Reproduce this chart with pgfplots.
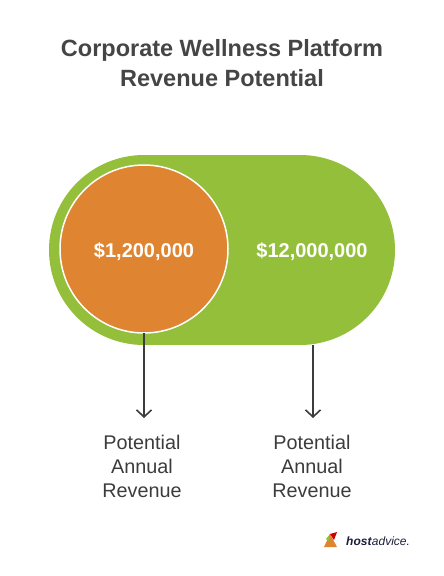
\documentclass[border=0pt]{standalone}
\usepackage{pgfplots}
\pgfplotsset{compat=1.18}
\usepackage{fontspec}
\setmainfont{Liberation Sans}
\usetikzlibrary{arrows.meta}
\definecolor{pillgreen}{HTML}{93BF3B}
\definecolor{circorange}{HTML}{DF8430}
\definecolor{titlegray}{HTML}{454545}
\definecolor{labelgray}{HTML}{3C3C3C}
\definecolor{navy}{HTML}{1B1F3B}
\begin{document}
\begin{tikzpicture}
\begin{axis}[
  width=444pt, height=576pt, scale only axis,
  xmin=0, xmax=444, ymin=0, ymax=576, y dir=reverse,
  axis lines=none, ticks=none, clip=false,
]
% large value: pill
\addplot[draw=none, fill=pillgreen] coordinates {(144,155) (300,155) (300,345) (144,345)} -- cycle;
\fill[pillgreen] (axis cs:144,250) circle[radius=95pt];
\fill[pillgreen] (axis cs:300,250) circle[radius=95pt];
% small value: circle
\draw[fill=circorange, draw=white, line width=1.5pt] (axis cs:144,249) circle[radius=84pt];
% title
\node[anchor=base, text=titlegray, font=\fontsize{23.5}{26}\selectfont\bfseries] at (axis cs:222,56.5) {Corporate Wellness Platform};
\node[anchor=base, text=titlegray, font=\fontsize{23.5}{26}\selectfont\bfseries] at (axis cs:222,86.5) {Revenue Potential};
% values
\node[anchor=base, text=white, font=\fontsize{20}{22}\selectfont\bfseries] at (axis cs:144,257) {\$1,200,000};
\node[anchor=base, text=white, font=\fontsize{20}{22}\selectfont\bfseries] at (axis cs:312,257) {\$12,000,000};
% arrows
\draw[labelgray, line width=1.6pt, -{Straight Barb[length=7pt,width=15pt]}] (axis cs:144,333) -- (axis cs:144,418);
\draw[labelgray, line width=1.6pt, -{Straight Barb[length=7pt,width=15pt]}] (axis cs:313,345) -- (axis cs:313,418);
% labels
\pgfplotsinvokeforeach{142,312}{
  \node[anchor=base, text=labelgray, font=\fontsize{19.8}{22}\selectfont] at (axis cs:#1,449) {Potential};
  \node[anchor=base, text=labelgray, font=\fontsize{19.8}{22}\selectfont] at (axis cs:#1,473) {Annual};
  \node[anchor=base, text=labelgray, font=\fontsize{19.8}{22}\selectfont] at (axis cs:#1,497) {Revenue};
}
% logo
\fill[circorange] (axis cs:324,547) -- (axis cs:330,534) -- (axis cs:337,547) -- cycle;
\fill[red!80!black] (axis cs:330,534) -- (axis cs:337,532) -- (axis cs:334,540) -- cycle;
\fill[pillgreen] (axis cs:326,539) -- (axis cs:330,534) -- (axis cs:329,541) -- cycle;
\node[anchor=base west, text=navy, font=\fontsize{12}{14}\selectfont, inner sep=0pt] at (axis cs:346,545) {\textbf{\itshape host}\textit{advice.}};
\end{axis}
\useasboundingbox (current axis.south west) rectangle (current axis.north east);
\end{tikzpicture}
\end{document}
